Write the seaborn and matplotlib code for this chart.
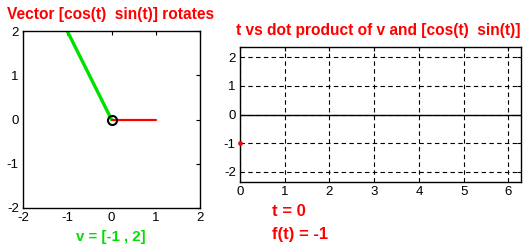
import numpy as np
import pandas as pd
import matplotlib
matplotlib.use("Agg")
import matplotlib.pyplot as plt
import seaborn as sns

# data
v_x = [0, -1]
v_y = [0, 2]
u_x = [0, 1]
u_y = [0, 0]
t_vals = [0]
f_vals = [-1]
left_ticks = [-2, -1, 0, 1, 2]
right_xticks = [0, 1, 2, 3, 4, 5, 6]
right_yticks = [-2, -1, 0, 1, 2]

sns.set_theme(style="white")
plt.rcParams['font.family'] = ['Liberation Sans', 'DejaVu Sans']

fig = plt.figure(figsize=(5.32, 2.48), dpi=100)
fig.patch.set_facecolor('white')

ax1 = fig.add_axes([23/532, 1-208/248, 177/532, 177/248])
ax2 = fig.add_axes([240/532, 1-182/248, 281/532, 135/248])

for ax in (ax1, ax2):
    ax.set_facecolor('white')
    for s in ax.spines.values():
        s.set_color('black')
        s.set_linewidth(1.0)
    ax.tick_params(direction='in', length=3, width=0.8, colors='black',
                   labelsize=9.5, top=True, right=True, pad=3)

# left plot
dv = pd.DataFrame({'x': v_x, 'y': v_y})
du = pd.DataFrame({'x': u_x, 'y': u_y})
sns.lineplot(data=dv, x='x', y='y', ax=ax1, color='#00e000', linewidth=2.4, sort=False)
sns.lineplot(data=du, x='x', y='y', ax=ax1, color='red', linewidth=1.6, sort=False)
ax1.plot([0], [0], marker='o', markersize=6.5, markerfacecolor='none',
         markeredgecolor='black', markeredgewidth=1.5, linestyle='none')
ax1.set_xlim(-2, 2)
ax1.set_ylim(-2, 2)
ax1.set_xticks(left_ticks)
ax1.set_yticks(left_ticks)
ax1.set_xticklabels([str(t) for t in left_ticks])
ax1.set_yticklabels([str(t) for t in left_ticks])
ax1.set_xlabel('')
ax1.set_ylabel('')
fig.text(111/532, 1-15/248, 'Vector [cos(t)  sin(t)] rotates', color='red',
         fontsize=11.2, fontweight='bold', ha='center', va='center')
fig.text(111/532, 1-237/248, 'v = [-1 , 2]', color='#00e000',
         fontsize=10.8, fontweight='bold', ha='center', va='center')

# right plot
df = pd.DataFrame({'t': t_vals, 'f': f_vals})
ax2.set_xlim(0, 2*np.pi)
ax2.set_ylim(-2.36, 2.36)
ax2.set_xticks(right_xticks)
ax2.set_yticks(right_yticks)
ax2.set_xticklabels([str(t) for t in right_xticks])
ax2.set_yticklabels([str(t) for t in right_yticks])
ax2.grid(True, color='black', linestyle=(0, (4, 3)), linewidth=0.8)
ax2.axhline(0, color='black', linewidth=1.0)
sns.scatterplot(data=df, x='t', y='f', ax=ax2, color='red', s=10,
                edgecolor='red', zorder=5, clip_on=False)
ax2.set_xlabel('')
ax2.set_ylabel('')
fig.text(378/532, 1-31/248, 't vs dot product of v and [cos(t)  sin(t)]',
         color='red', fontsize=11.2, fontweight='bold', ha='center', va='center')
fig.text(272/532, 1-211/248, 't = 0', color='red', fontsize=12,
         fontweight='bold', ha='left', va='center')
fig.text(272/532, 1-235/248, 'f(t) = -1', color='red', fontsize=12,
         fontweight='bold', ha='left', va='center')

fig.savefig('out.png', dpi=100, facecolor='white')
